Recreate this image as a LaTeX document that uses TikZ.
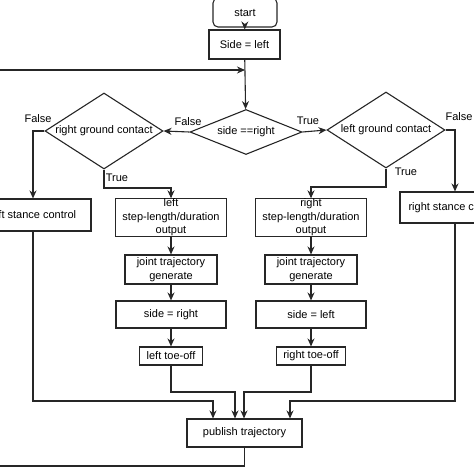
\documentclass[tikz,border=0pt]{standalone}
\usepackage{fontspec}
\setmainfont{Liberation Sans}
\usetikzlibrary{shapes.geometric,arrows.meta}
\begin{document}
\begin{tikzpicture}[x=1pt,y=-1pt,
  every node/.style={font=\fontsize{11}{13.5}\selectfont},
  line/.style={draw=black!85,line width=1.1pt},
  arr/.style={line,-{Stealth[length=8pt,width=7pt]}},
  box/.style={line,rectangle,align=center,inner xsep=7pt,inner ysep=0pt},
  decision/.style={line,diamond,inner sep=0pt,aspect=1.55},
  lbl/.style={inner sep=0pt}]
\useasboundingbox (0,0) rectangle (474,474);
% top
\node[box,rounded corners=5pt,minimum width=64pt,minimum height=29pt](start)at(245,12.5){start};
\node[box,minimum width=71pt,minimum height=29pt](init)at(244.5,44.5){Side = left};
\node[decision,minimum width=112pt,minimum height=45pt,aspect=2.5](side)at(246,132){side ==right};
\node[decision,minimum width=118pt,minimum height=76pt](rgc)at(104,131){right ground contact};
\node[decision,minimum width=118pt,minimum height=76pt](lgc)at(386,130){left ground contact};
\node[box,minimum width=116pt,minimum height=32pt](lstance)at(33,215){left stance control};
\node[box,minimum width=110pt,minimum height=31pt](rstance)at(455,207.5){right stance control};
% the two swing columns
\foreach \n/\x/\s/\o in {l/171/left/right,r/311/right/left} {
  \node[box,minimum width=110pt,minimum height=37pt](\n-step)at(\x,217.5){\s\\step-length/duration\\output};
  \node[box,minimum width=92pt,minimum height=29pt](\n-joint)at(\x,269.5){joint trajectory\\generate};
  \node[box,minimum width=110pt,minimum height=27pt](\n-side)at(\x,314.5){side = \o};
  \node[box,minimum height=18pt](\n-toe)at(\x,356){\s\ toe-off};
  \draw[arr](\n-step)--(\n-joint);
  \draw[arr](\n-joint)--(\n-side);
  \draw[arr](\n-side)--(\n-toe);
}
\node[box,minimum width=115pt,minimum height=28pt](publish)at(244.5,433){publish trajectory};
% labels
\node[lbl]at(188,122){False};
\node[lbl]at(308,121){True};
\node[lbl]at(38,119){False};
\node[lbl]at(117,178){True};
\node[lbl]at(459,117){False};
\node[lbl]at(406,172){True};
% connectors
\coordinate(loop)at(245,70);
\coordinate(ret)at(-10,466);
\coordinate(busout)at(0,401);
\coordinate(busin)at(0,392);
\coordinate(in1)at([xshift=-31.5pt]publish.north);
\coordinate(in2)at([xshift=-9.5pt]publish.north);
\coordinate(in3)at([xshift=-0.5pt]publish.north);
\coordinate(in4)at([xshift=45.5pt]publish.north);
\coordinate(lbend)at(0,188);
\coordinate(rbend)at(0,187);
\draw[arr](start)--(init);
\draw[arr](init)--(side);
\draw[arr](side.west)--(rgc.east);
\draw[arr](side.east)--(lgc.west);
\draw[arr](rgc.west)-|(lstance.north);
\draw[arr](rgc.south)|-(l-step.north|-lbend)--(l-step.north);
\draw[arr](lgc.east)-|(rstance.north);
\draw[arr](lgc.south)|-(r-step.north|-rbend)--(r-step.north);
\draw[arr](lstance.south)|-(in1|-busout)--(in1);
\draw[arr](l-toe.south)|-(in2|-busin)--(in2);
\draw[arr](r-toe.south)|-(in3|-busin)--(in3);
\draw[arr](rstance.south)|-(in4|-busout)--(in4);
\draw[arr](publish.south)|-(ret)|-(loop);
\end{tikzpicture}
\end{document}
